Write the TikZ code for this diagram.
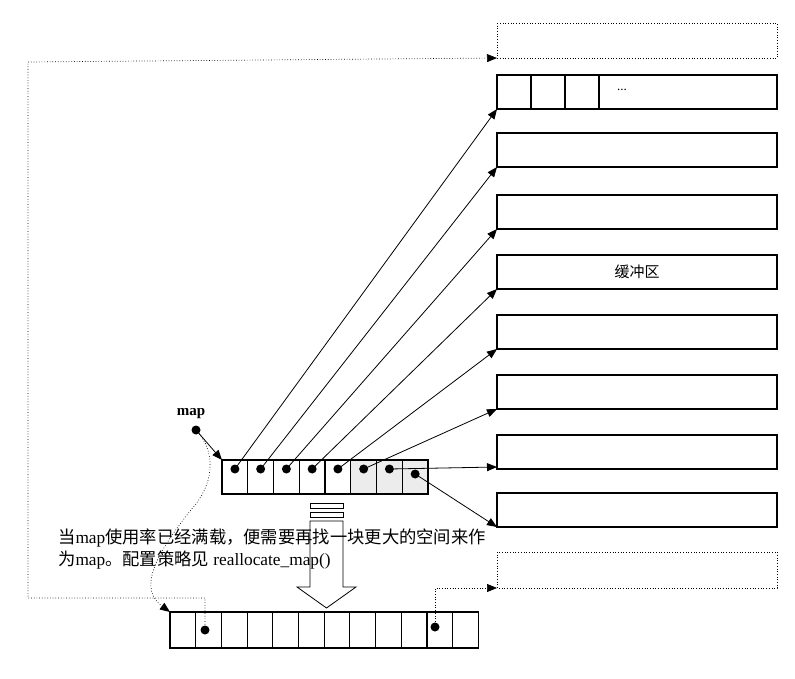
\documentclass[tikz,border=0pt]{standalone}
\usepackage{fontspec}
\setmainfont{Liberation Serif}
\newfontfamily\cjk{Noto Sans CJK SC}
\usetikzlibrary{arrows.meta}
\begin{document}
\begin{tikzpicture}[x=1pt,y=-1pt,
  box/.style={draw,line width=1.1pt},
  dbox/.style={draw,dotted,line width=0.7pt},
  ptr/.style={-{Triangle[length=10pt,width=8pt]},line width=0.8pt},
  dptr/.style={dotted,line width=0.7pt,-{Triangle[length=10pt,width=8pt]}},
  dotc/.style={circle,fill,inner sep=0pt,minimum size=9pt}]
\useasboundingbox (0,0) rectangle (795,679);
% buffers
\draw[dbox] (497,23) rectangle (777,58);
\coordinate (top) at (497,58);
\draw[box] (497,75) rectangle (777,109);
\foreach \x in {531,565,599} \draw[box] (\x,75) -- (\x,109);
\node[font=\fontsize{13}{15}\selectfont] at (622,90) {...};
\foreach \i/\t in {1/75,2/133,3/195,4/255,5/315,6/375,7/435,8/493}{
  \ifnum\i>1 \draw[box] (497,\t) rectangle (777,\t+34);\fi
  \coordinate (b\i) at (497,\t+34);
}
\node[font=\fontsize{15}{17}\selectfont] at (637,272) {\cjk 缓冲区};
\draw[dbox] (497,552) rectangle (777,588);
\coordinate (bot) at (497,588);
% map array
\foreach \i in {1,...,8}{
  \pgfmathsetmacro\xa{222+(\i-1)*25.75}
  \ifnum\i>5 \fill[gray!15] (\xa,460) rectangle (\xa+25.75,494);\fi
  \draw[box] (\xa,460) rectangle (\xa+25.75,494);
  \node[dotc] (m\i) at (\xa+12.9,\ifnum\i=8 474\else 469\fi) {};
}
\coordinate (mapTL) at (222,460);
\foreach \i in {1,...,6} \draw[ptr] (m\i.center) -- (b\i);
\draw[ptr] (m7.center) -- (497,467);
\draw[ptr] (m8.center) -- (b8);
% map label
\node[font=\bfseries\fontsize{15}{17}\selectfont] (maplbl) at (191,414) {map};
\node[dotc] (mapdot) at (196,430) {};
\draw[ptr] (mapdot.center) -- (mapTL);
% bottom array
\foreach \i in {1,...,12}{
  \pgfmathsetmacro\xa{170+(\i-1)*25.7}
  \draw[box] (\xa,612) rectangle (\xa+25.7,648);
}
\node[dotc] (n2) at (205,630) {};
\node[dotc] (n11) at (435,627) {};
\coordinate (newTL) at (170,612);
\draw[dptr] (mapdot.center) .. controls (215,450) and (215,480) .. (195,505)
   .. controls (150,560) and (140,590) .. (newTL);
\draw[dptr] (n2.center) -- (205,598) -- (28,598) -- (28,62) -- (top);
\draw[dptr] (n11.center) -- (435,588) -- (bot);
% hollow arrow
\draw[line width=0.8pt] (310,503) rectangle (343,508);
\draw[line width=0.8pt] (310,512) rectangle (343,517);
\draw[line width=0.8pt,fill=white] (310,521) -- (343,521) -- (343,587) -- (356,587) -- (326.5,608) -- (297,587) -- (310,587) -- cycle;
% text
\node[anchor=west,inner sep=0pt,font=\fontsize{17.3}{19}\selectfont] (t1) at (58,538) {\cjk 当{\rmfamily map}使用率已经满载，便需要再找一块更大的空间来作};
\node[anchor=west,inner sep=0pt,font=\fontsize{17.3}{19}\selectfont] (t2) at (58,560) {{\cjk 为}map{\cjk 。配置策略见} reallocate\_map()};
\end{tikzpicture}
\end{document}
